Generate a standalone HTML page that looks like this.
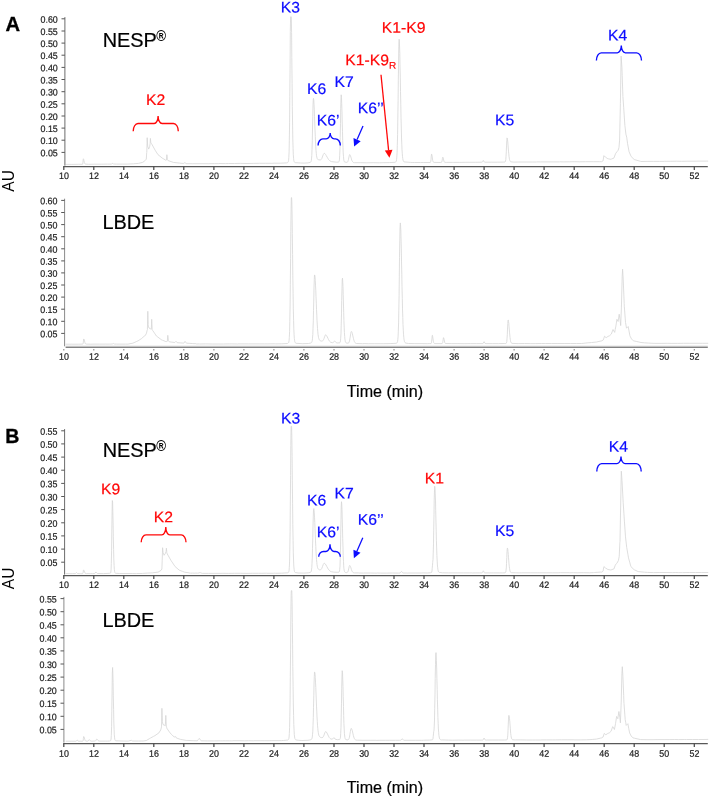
<!DOCTYPE html>
<html lang="en"><head><meta charset="utf-8"><title>Chromatograms</title>
<style>html,body{margin:0;padding:0;background:#fff}svg{display:block}</style></head>
<body>
<svg width="709" height="797" viewBox="0 0 709 797" font-family='"Liberation Sans", Arial, Helvetica, sans-serif'>
<rect width="709" height="797" fill="#ffffff"/>
<path d="M65.7,164.4L71.9,164.4L78.2,164.3L81.9,164.3L82.7,164.2L82.9,162.9L83.2,159.4L83.4,158.8L83.7,159.4L83.9,160.4L84.4,162.6L84.7,163.3L84.9,163.8L85.4,164.1L88.6,164.3L94.9,164.2L101.1,164.2L107.3,164.1L111.6,164.1L112.3,163.4L112.6,163.4L112.8,163.5L113.3,164.0L116.3,164.1L122.5,164.1L127.3,164.1L133.5,163.8L138.5,163.4L142.5,162.4L142.7,162.4L145.4,160.3L146.3,159.1L146.7,152.7L146.8,152.3L147.2,137.7L147.7,146.2L148.7,149.1L149.6,146.9L150.1,143.8L150.4,138.4L150.8,142.5L151.5,143.6L155.2,150.3L158.0,154.7L162.2,158.0L162.2,158.1L165.7,160.1L165.8,160.3L166.4,160.0L166.9,154.7L167.4,159.5L167.5,160.0L167.9,160.5L173.4,162.4L179.6,163.1L182.0,163.4L183.9,163.4L184.9,162.5L185.9,163.4L186.1,163.7L192.4,163.7L195.9,163.7L202.1,163.7L208.3,163.7L214.5,163.6L218.8,163.6L219.0,163.5L225.3,163.6L228.3,163.5L234.5,163.5L240.7,163.4L247.0,163.5L253.2,163.4L259.4,163.3L265.7,163.3L271.9,163.3L274.1,163.2L280.4,163.2L286.4,162.9L287.6,162.6L288.1,162.2L288.3,161.7L288.6,160.4L288.8,157.7L289.1,151.8L289.3,140.8L289.6,122.8L289.8,96.7L290.1,64.5L290.3,31.4L290.6,16.8L291.3,16.8L291.6,32.4L291.8,57.8L292.1,83.4L292.3,106.5L292.6,125.1L292.8,139.1L293.1,148.6L293.3,154.7L293.6,158.3L293.8,160.4L294.1,161.4L294.3,161.9L294.6,162.3L295.6,162.7L300.6,163.0L304.3,163.1L307.8,162.9L310.3,162.4L310.8,162.0L311.0,161.6L311.3,160.7L311.5,158.9L311.8,155.4L312.0,149.5L312.3,140.6L312.5,129.0L312.8,116.4L313.0,105.3L313.3,98.9L313.5,98.3L313.8,100.4L314.0,104.3L314.3,109.8L314.5,116.3L315.0,130.0L315.3,136.4L315.5,142.0L315.8,146.8L316.0,150.5L316.3,153.5L316.5,155.7L316.8,157.1L317.0,158.1L317.3,158.8L317.5,159.2L317.8,159.5L318.3,159.7L320.3,160.0L320.8,159.8L321.3,159.3L321.8,158.5L322.0,158.0L323.3,154.5L323.8,153.6L324.0,153.4L324.3,153.3L325.0,153.7L325.5,154.3L326.2,155.5L327.5,157.8L328.7,159.7L329.5,160.5L331.2,161.6L336.7,162.2L338.2,162.1L338.7,161.9L339.0,161.7L339.2,161.0L339.5,159.1L339.7,155.4L340.0,148.3L340.2,137.5L340.5,123.4L340.7,108.8L341.0,98.0L341.2,94.8L341.5,97.3L341.7,103.5L342.0,112.1L342.2,122.0L342.5,131.7L342.7,140.5L343.0,147.6L343.2,152.9L343.5,156.6L343.7,159.0L343.9,160.5L344.2,161.4L344.4,161.8L344.7,162.0L346.9,162.4L347.4,162.2L347.9,161.4L348.2,160.6L348.4,159.7L349.2,155.9L349.4,155.0L349.7,154.6L349.9,154.7L350.2,155.0L350.4,155.6L351.2,158.1L351.4,159.0L351.9,160.5L352.2,161.1L352.7,161.8L353.4,162.5L354.4,162.7L360.7,162.7L366.9,162.8L373.1,162.7L379.4,162.8L382.8,162.7L383.1,162.7L389.3,162.6L395.1,162.3L395.8,161.9L396.1,161.6L396.3,161.0L396.6,159.6L396.8,157.1L397.1,152.7L397.3,145.3L397.6,134.3L397.8,119.2L398.1,100.6L398.3,80.2L398.6,60.9L398.8,46.3L399.1,39.2L399.3,39.9L399.5,45.0L399.8,53.5L400.0,64.8L400.3,77.8L400.5,91.4L400.8,104.8L401.0,117.1L401.3,128.0L401.5,137.0L401.8,144.2L402.0,149.8L402.3,153.8L402.5,156.7L402.8,158.7L403.0,160.0L403.3,160.8L403.5,161.3L404.0,161.9L410.3,162.4L412.8,162.5L414.3,162.5L420.2,162.5L420.5,162.5L420.7,162.6L421.0,162.5L423.7,162.5L430.0,162.5L430.5,162.3L430.7,161.7L431.0,159.9L431.2,156.7L431.5,154.2L431.7,154.2L432.0,155.5L432.5,159.0L432.7,160.5L433.0,161.5L433.2,162.0L434.0,162.4L440.2,162.5L441.4,162.3L441.7,162.2L441.9,161.5L442.2,160.3L442.4,158.6L442.7,157.3L442.9,157.2L443.2,157.8L443.7,160.1L443.9,161.1L444.2,161.7L444.4,162.1L444.7,162.3L446.2,162.4L452.4,162.4L453.4,162.4L459.6,162.4L465.9,162.3L469.1,162.3L475.3,162.3L481.6,162.2L482.1,162.2L482.3,162.1L482.6,161.8L483.1,160.6L483.3,160.3L483.6,160.6L484.1,161.7L484.3,162.0L484.8,162.2L491.1,162.2L497.3,162.2L503.5,162.1L505.0,162.0L505.3,161.7L505.5,161.0L505.8,159.5L506.0,156.6L506.3,151.8L506.5,145.9L506.8,140.6L507.0,137.9L507.3,138.2L507.5,139.7L507.8,142.0L508.0,145.0L508.5,151.2L508.8,153.9L509.0,156.3L509.3,158.1L509.5,159.5L509.8,160.5L510.0,161.1L510.3,161.5L510.7,161.8L513.7,162.1L520.0,162.0L526.2,162.0L532.4,162.0L536.4,162.0L536.7,161.9L540.7,161.9L546.9,161.9L553.1,161.9L559.4,161.9L559.6,161.8L559.9,161.9L560.1,161.8L563.1,161.9L569.3,161.8L574.8,161.7L579.3,161.8L585.5,161.7L587.0,161.7L593.3,161.7L599.5,161.7L601.5,161.7L602.5,161.3L602.8,161.1L603.0,161.0L603.9,155.7L604.0,155.7L605.4,157.1L607.9,158.8L608.7,158.9L611.0,159.3L611.5,159.0L613.9,158.1L615.6,153.5L616.9,151.8L617.0,151.7L618.1,150.3L618.9,147.9L619.0,147.2L619.6,140.1L620.4,103.7L621.1,56.1L621.9,67.3L622.2,75.6L622.9,96.3L622.9,96.4L623.7,107.7L623.7,107.8L624.9,125.6L625.9,134.1L626.7,137.2L627.6,143.8L629.1,151.8L631.2,156.6L634.2,159.5L640.4,161.3L641.0,161.5L647.1,161.4L653.4,161.4L659.6,161.4L664.2,161.4L664.3,161.3L666.1,161.3L670.3,161.3L676.6,161.2L681.5,161.3L687.8,161.2L694.0,161.2L700.2,161.1L706.5,161.1L708.2,161.1" fill="none" stroke="#d6d6d6" stroke-width="0.8" stroke-linejoin="round"/>
<g stroke="#585858" stroke-width="1" fill="none">
<line x1="64.9" y1="17.1" x2="64.9" y2="165.6" stroke="#6c6c6c"/>
<line x1="63.2" y1="166.6" x2="707.8" y2="166.6" stroke-width="1.1"/>
<line x1="61.5" y1="18.8" x2="64.9" y2="18.8"/>
<line x1="61.5" y1="31.0" x2="64.9" y2="31.0"/>
<line x1="61.5" y1="43.1" x2="64.9" y2="43.1"/>
<line x1="61.5" y1="55.2" x2="64.9" y2="55.2"/>
<line x1="61.5" y1="67.4" x2="64.9" y2="67.4"/>
<line x1="61.5" y1="79.5" x2="64.9" y2="79.5"/>
<line x1="61.5" y1="91.7" x2="64.9" y2="91.7"/>
<line x1="61.5" y1="103.8" x2="64.9" y2="103.8"/>
<line x1="61.5" y1="116.0" x2="64.9" y2="116.0"/>
<line x1="61.5" y1="128.1" x2="64.9" y2="128.1"/>
<line x1="61.5" y1="140.2" x2="64.9" y2="140.2"/>
<line x1="61.5" y1="152.4" x2="64.9" y2="152.4"/>
<line x1="63.8" y1="166.6" x2="63.8" y2="170.1" stroke="#4a4a4a" stroke-width="1.25"/>
<line x1="93.8" y1="166.6" x2="93.8" y2="170.1" stroke="#4a4a4a" stroke-width="1.25"/>
<line x1="123.8" y1="166.6" x2="123.8" y2="170.1" stroke="#4a4a4a" stroke-width="1.25"/>
<line x1="153.8" y1="166.6" x2="153.8" y2="170.1" stroke="#4a4a4a" stroke-width="1.25"/>
<line x1="183.8" y1="166.6" x2="183.8" y2="170.1" stroke="#4a4a4a" stroke-width="1.25"/>
<line x1="213.9" y1="166.6" x2="213.9" y2="170.1" stroke="#4a4a4a" stroke-width="1.25"/>
<line x1="243.9" y1="166.6" x2="243.9" y2="170.1" stroke="#4a4a4a" stroke-width="1.25"/>
<line x1="273.9" y1="166.6" x2="273.9" y2="170.1" stroke="#4a4a4a" stroke-width="1.25"/>
<line x1="303.9" y1="166.6" x2="303.9" y2="170.1" stroke="#4a4a4a" stroke-width="1.25"/>
<line x1="334.0" y1="166.6" x2="334.0" y2="170.1" stroke="#4a4a4a" stroke-width="1.25"/>
<line x1="364.0" y1="166.6" x2="364.0" y2="170.1" stroke="#4a4a4a" stroke-width="1.25"/>
<line x1="394.0" y1="166.6" x2="394.0" y2="170.1" stroke="#4a4a4a" stroke-width="1.25"/>
<line x1="424.0" y1="166.6" x2="424.0" y2="170.1" stroke="#4a4a4a" stroke-width="1.25"/>
<line x1="454.1" y1="166.6" x2="454.1" y2="170.1" stroke="#4a4a4a" stroke-width="1.25"/>
<line x1="484.1" y1="166.6" x2="484.1" y2="170.1" stroke="#4a4a4a" stroke-width="1.25"/>
<line x1="514.1" y1="166.6" x2="514.1" y2="170.1" stroke="#4a4a4a" stroke-width="1.25"/>
<line x1="544.1" y1="166.6" x2="544.1" y2="170.1" stroke="#4a4a4a" stroke-width="1.25"/>
<line x1="574.2" y1="166.6" x2="574.2" y2="170.1" stroke="#4a4a4a" stroke-width="1.25"/>
<line x1="604.2" y1="166.6" x2="604.2" y2="170.1" stroke="#4a4a4a" stroke-width="1.25"/>
<line x1="634.2" y1="166.6" x2="634.2" y2="170.1" stroke="#4a4a4a" stroke-width="1.25"/>
<line x1="664.2" y1="166.6" x2="664.2" y2="170.1" stroke="#4a4a4a" stroke-width="1.25"/>
<line x1="694.3" y1="166.6" x2="694.3" y2="170.1" stroke="#4a4a4a" stroke-width="1.25"/>
</g>
<g font-size="8.9" fill="#1c1c1c" stroke="#1c1c1c" stroke-width="0.2">
<text transform="translate(57.8,22.7) rotate(0.03) scale(1,1.06)" text-anchor="end">0.60</text>
<text transform="translate(57.8,34.9) rotate(0.03) scale(1,1.06)" text-anchor="end">0.55</text>
<text transform="translate(57.8,47.0) rotate(0.03) scale(1,1.06)" text-anchor="end">0.50</text>
<text transform="translate(57.8,59.1) rotate(0.03) scale(1,1.06)" text-anchor="end">0.45</text>
<text transform="translate(57.8,71.3) rotate(0.03) scale(1,1.06)" text-anchor="end">0.40</text>
<text transform="translate(57.8,83.4) rotate(0.03) scale(1,1.06)" text-anchor="end">0.35</text>
<text transform="translate(57.8,95.6) rotate(0.03) scale(1,1.06)" text-anchor="end">0.30</text>
<text transform="translate(57.8,107.7) rotate(0.03) scale(1,1.06)" text-anchor="end">0.25</text>
<text transform="translate(57.8,119.9) rotate(0.03) scale(1,1.06)" text-anchor="end">0.20</text>
<text transform="translate(57.8,132.0) rotate(0.03) scale(1,1.06)" text-anchor="end">0.15</text>
<text transform="translate(57.8,144.1) rotate(0.03) scale(1,1.06)" text-anchor="end">0.10</text>
<text transform="translate(57.8,156.3) rotate(0.03) scale(1,1.06)" text-anchor="end">0.05</text>
<text transform="translate(63.9,179.0) rotate(0.03) scale(1,1.06)" text-anchor="middle">10</text>
<text transform="translate(93.9,179.0) rotate(0.03) scale(1,1.06)" text-anchor="middle">12</text>
<text transform="translate(123.9,179.0) rotate(0.03) scale(1,1.06)" text-anchor="middle">14</text>
<text transform="translate(153.9,179.0) rotate(0.03) scale(1,1.06)" text-anchor="middle">16</text>
<text transform="translate(183.9,179.0) rotate(0.03) scale(1,1.06)" text-anchor="middle">18</text>
<text transform="translate(214.0,179.0) rotate(0.03) scale(1,1.06)" text-anchor="middle">20</text>
<text transform="translate(244.0,179.0) rotate(0.03) scale(1,1.06)" text-anchor="middle">22</text>
<text transform="translate(274.0,179.0) rotate(0.03) scale(1,1.06)" text-anchor="middle">24</text>
<text transform="translate(304.0,179.0) rotate(0.03) scale(1,1.06)" text-anchor="middle">26</text>
<text transform="translate(334.1,179.0) rotate(0.03) scale(1,1.06)" text-anchor="middle">28</text>
<text transform="translate(364.1,179.0) rotate(0.03) scale(1,1.06)" text-anchor="middle">30</text>
<text transform="translate(394.1,179.0) rotate(0.03) scale(1,1.06)" text-anchor="middle">32</text>
<text transform="translate(424.1,179.0) rotate(0.03) scale(1,1.06)" text-anchor="middle">34</text>
<text transform="translate(454.2,179.0) rotate(0.03) scale(1,1.06)" text-anchor="middle">36</text>
<text transform="translate(484.2,179.0) rotate(0.03) scale(1,1.06)" text-anchor="middle">38</text>
<text transform="translate(514.2,179.0) rotate(0.03) scale(1,1.06)" text-anchor="middle">40</text>
<text transform="translate(544.2,179.0) rotate(0.03) scale(1,1.06)" text-anchor="middle">42</text>
<text transform="translate(574.3,179.0) rotate(0.03) scale(1,1.06)" text-anchor="middle">44</text>
<text transform="translate(604.3,179.0) rotate(0.03) scale(1,1.06)" text-anchor="middle">46</text>
<text transform="translate(634.3,179.0) rotate(0.03) scale(1,1.06)" text-anchor="middle">48</text>
<text transform="translate(664.3,179.0) rotate(0.03) scale(1,1.06)" text-anchor="middle">50</text>
<text transform="translate(694.4,179.0) rotate(0.03) scale(1,1.06)" text-anchor="middle">52</text>
</g>
<text transform="translate(102.7,46.6) scale(1,1.04)" font-size="19.9" fill="#000" stroke="#000" stroke-width="0.2">NESP<tspan font-size="13.3" dy="-5.7" dx="-0.6" font-weight="bold" stroke="none">®</tspan></text>
<path d="M65.7,344.2L71.9,344.2L78.2,344.2L82.7,344.1L82.9,344.0L83.2,343.2L83.7,339.0L83.9,339.0L84.2,339.7L84.9,342.5L85.1,343.2L85.6,343.9L86.6,344.1L90.9,344.2L93.9,344.1L99.4,344.1L105.6,344.1L105.8,344.1L109.8,344.1L110.1,344.1L110.3,344.1L112.3,344.0L113.1,343.4L113.3,343.4L114.1,344.0L116.6,344.1L119.1,344.1L125.3,344.1L128.3,344.1L128.3,344.0L132.8,343.2L136.8,341.4L138.0,340.8L138.1,340.8L139.8,339.7L141.5,338.6L144.2,336.2L145.3,335.5L146.5,333.1L147.2,330.1L147.4,329.7L147.8,311.3L148.2,324.7L148.3,326.1L149.0,328.0L150.2,328.7L150.2,328.7L151.3,329.2L151.7,319.3L152.2,329.7L152.8,330.7L153.0,330.9L155.0,333.9L156.4,336.0L161.9,340.1L162.2,340.1L162.4,340.3L162.7,340.3L165.9,341.6L166.1,341.8L166.2,341.7L167.3,341.3L167.8,335.3L168.4,340.8L169.3,341.8L174.8,342.5L176.0,341.3L177.2,342.7L183.4,343.1L183.8,343.2L184.9,341.5L185.0,341.3L186.5,343.2L189.1,343.3L192.9,343.6L195.9,343.7L196.1,344.0L199.3,343.9L199.6,344.0L205.8,343.9L212.1,344.0L218.3,344.0L223.5,344.0L229.8,343.9L231.8,343.9L237.7,344.0L238.0,343.9L244.2,343.9L248.0,343.9L248.2,343.9L248.7,343.9L249.0,343.9L252.9,343.9L259.2,343.9L264.7,343.9L267.9,343.9L274.1,343.8L275.6,343.9L281.9,343.8L287.4,343.5L288.3,343.0L288.6,342.7L288.8,342.0L289.1,340.5L289.3,337.4L289.6,331.5L289.8,321.4L290.1,306.0L290.3,284.6L290.6,258.6L290.8,231.6L291.1,208.5L291.3,197.6L291.6,197.6L291.8,200.9L292.1,215.0L292.3,233.7L292.6,254.5L292.8,275.1L293.1,293.6L293.3,308.8L293.6,320.5L293.8,328.9L294.1,334.7L294.3,338.3L294.6,340.5L294.8,341.8L295.1,342.4L295.3,342.8L296.1,343.3L302.3,343.7L308.5,343.5L310.8,343.0L311.3,342.8L311.5,342.6L311.8,342.2L312.0,341.6L312.3,340.4L312.5,338.2L312.8,334.5L313.0,328.8L313.3,320.7L313.5,310.5L313.8,299.0L314.0,287.9L314.3,279.3L314.5,275.0L314.8,275.1L315.0,277.0L315.3,280.5L315.5,285.1L315.8,290.7L316.0,296.8L316.3,303.2L316.5,309.3L316.8,315.2L317.0,320.3L317.3,324.9L317.5,328.6L317.8,331.8L318.0,334.2L318.3,336.1L318.5,337.4L318.8,338.4L319.0,339.2L319.3,339.7L319.8,340.4L320.5,340.8L321.5,341.1L322.3,341.0L322.8,340.8L323.0,340.5L323.5,339.7L324.0,338.5L324.8,336.2L325.3,335.1L325.5,334.8L326.0,334.9L326.5,335.4L326.7,335.8L328.0,338.4L328.5,339.6L329.5,341.2L330.7,342.3L332.5,342.7L333.0,342.7L333.5,342.3L334.2,341.3L334.7,340.9L335.2,341.4L335.7,342.2L336.2,342.7L337.0,343.0L339.7,342.8L340.0,342.6L340.2,342.1L340.5,340.9L340.7,338.2L341.0,333.3L341.2,325.2L341.5,313.9L341.7,300.6L342.0,288.1L342.2,279.8L342.5,278.2L342.7,281.0L343.0,286.8L343.2,294.6L343.7,312.4L343.9,320.4L344.2,327.2L344.4,332.6L344.7,336.4L344.9,339.1L345.2,340.8L345.4,341.8L345.7,342.4L345.9,342.7L346.7,343.1L347.9,343.2L348.4,343.1L348.7,342.9L348.9,342.5L349.2,342.0L349.4,341.2L349.7,340.1L349.9,338.7L350.2,337.1L350.7,333.8L350.9,332.5L351.2,331.6L351.4,331.4L351.7,331.6L351.9,332.1L352.2,332.9L352.4,333.8L353.4,338.3L353.9,340.2L354.4,341.6L354.9,342.5L355.7,343.2L356.4,343.5L362.6,343.7L364.1,343.6L368.4,343.7L374.6,343.7L380.8,343.7L383.8,343.7L390.1,343.6L396.1,343.3L396.8,343.0L397.1,342.8L397.3,342.4L397.6,341.4L397.8,339.7L398.1,336.5L398.3,331.2L398.6,322.9L398.8,310.9L399.1,295.3L399.3,276.9L399.5,257.6L399.8,240.2L400.0,227.8L400.3,222.9L400.5,224.4L400.8,229.7L401.0,238.0L401.3,248.8L401.5,261.1L401.8,274.1L402.0,286.7L402.3,298.5L402.5,308.9L402.8,317.6L403.0,324.7L403.3,330.2L403.5,334.3L403.8,337.3L404.0,339.3L404.3,340.7L404.5,341.7L405.0,342.6L405.8,343.1L408.5,343.5L414.8,343.6L421.0,343.6L427.2,343.7L429.2,343.6L431.0,343.6L431.2,343.4L431.5,342.8L431.7,341.0L432.0,337.9L432.2,335.4L432.5,335.4L432.7,336.6L433.2,340.2L433.5,341.6L433.7,342.6L434.0,343.2L434.2,343.4L434.7,343.6L440.9,343.6L442.2,343.6L442.4,343.3L442.7,342.7L442.9,341.3L443.2,339.3L443.4,337.8L443.7,337.7L443.9,338.5L444.2,339.7L444.4,341.0L444.7,342.1L444.9,342.9L445.2,343.3L445.4,343.5L451.7,343.6L457.9,343.6L464.1,343.7L470.4,343.6L476.6,343.6L482.8,343.6L483.1,343.5L483.3,343.1L483.8,342.0L484.1,341.7L484.3,341.9L484.8,343.1L485.1,343.4L486.1,343.6L492.3,343.6L498.5,343.6L504.8,343.5L505.8,343.5L506.3,343.2L506.5,342.7L506.8,341.5L507.0,338.9L507.3,334.7L507.5,329.0L507.8,323.5L508.0,320.2L508.3,320.1L508.5,321.3L508.8,323.4L509.0,326.2L509.5,332.2L509.8,335.0L510.0,337.5L510.3,339.4L510.5,340.7L510.7,341.8L511.0,342.4L511.2,342.9L512.0,343.4L518.2,343.6L524.5,343.5L530.7,343.6L535.2,343.6L541.4,343.5L544.9,343.5L545.4,343.5L551.6,343.5L557.9,343.5L564.1,343.5L570.3,343.5L576.6,343.5L581.7,343.5L587.8,342.8L591.0,342.6L591.3,342.5L591.8,342.5L596.8,342.0L597.0,341.9L601.9,340.8L603.4,339.8L604.5,336.2L606.1,337.7L608.0,336.4L609.6,335.7L611.4,334.0L611.7,333.0L613.0,329.5L614.7,332.4L615.2,329.5L615.9,326.1L616.9,319.3L618.1,321.5L619.2,314.2L620.1,320.0L620.7,325.6L620.7,325.4L621.4,307.9L622.2,276.4L622.6,269.2L623.2,278.9L624.2,303.4L624.3,306.2L625.5,322.4L626.5,328.2L628.2,326.5L629.0,330.9L629.9,335.7L630.4,336.8L631.5,338.9L633.3,340.8L636.7,341.5L641.0,342.5L644.4,342.8L648.6,343.1L654.9,343.4L661.1,343.4L667.1,343.3L671.1,343.4L677.3,343.4L683.5,343.3L689.8,343.3L696.0,343.3L702.2,343.3L708.2,343.3" fill="none" stroke="#d6d6d6" stroke-width="0.8" stroke-linejoin="round"/>
<line x1="65.6" y1="346.15" x2="707.8" y2="346.15" stroke="#bdbdbd" stroke-width="0.6"/>
<g stroke="#585858" stroke-width="1" fill="none">
<line x1="64.6" y1="198.7" x2="64.6" y2="346.3" stroke="#8a8a8a"/>
<line x1="65.6" y1="347.3" x2="707.8" y2="347.3" stroke-width="1.05"/>
<line x1="61.2" y1="200.4" x2="64.6" y2="200.4"/>
<line x1="61.2" y1="212.5" x2="64.6" y2="212.5"/>
<line x1="61.2" y1="224.6" x2="64.6" y2="224.6"/>
<line x1="61.2" y1="236.7" x2="64.6" y2="236.7"/>
<line x1="61.2" y1="248.8" x2="64.6" y2="248.8"/>
<line x1="61.2" y1="260.9" x2="64.6" y2="260.9"/>
<line x1="61.2" y1="272.9" x2="64.6" y2="272.9"/>
<line x1="61.2" y1="285.0" x2="64.6" y2="285.0"/>
<line x1="61.2" y1="297.1" x2="64.6" y2="297.1"/>
<line x1="61.2" y1="309.2" x2="64.6" y2="309.2"/>
<line x1="61.2" y1="321.3" x2="64.6" y2="321.3"/>
<line x1="61.2" y1="333.4" x2="64.6" y2="333.4"/>
<line x1="63.8" y1="348.9" x2="63.8" y2="350.4" stroke="#8a8a8a" stroke-width="1.1"/>
<line x1="93.8" y1="348.9" x2="93.8" y2="350.4" stroke="#8a8a8a" stroke-width="1.1"/>
<line x1="123.8" y1="348.9" x2="123.8" y2="350.4" stroke="#8a8a8a" stroke-width="1.1"/>
<line x1="153.8" y1="348.9" x2="153.8" y2="350.4" stroke="#8a8a8a" stroke-width="1.1"/>
<line x1="183.8" y1="348.9" x2="183.8" y2="350.4" stroke="#8a8a8a" stroke-width="1.1"/>
<line x1="213.9" y1="348.9" x2="213.9" y2="350.4" stroke="#8a8a8a" stroke-width="1.1"/>
<line x1="243.9" y1="348.9" x2="243.9" y2="350.4" stroke="#8a8a8a" stroke-width="1.1"/>
<line x1="273.9" y1="348.9" x2="273.9" y2="350.4" stroke="#8a8a8a" stroke-width="1.1"/>
<line x1="303.9" y1="348.9" x2="303.9" y2="350.4" stroke="#8a8a8a" stroke-width="1.1"/>
<line x1="334.0" y1="348.9" x2="334.0" y2="350.4" stroke="#8a8a8a" stroke-width="1.1"/>
<line x1="364.0" y1="348.9" x2="364.0" y2="350.4" stroke="#8a8a8a" stroke-width="1.1"/>
<line x1="394.0" y1="348.9" x2="394.0" y2="350.4" stroke="#8a8a8a" stroke-width="1.1"/>
<line x1="424.0" y1="348.9" x2="424.0" y2="350.4" stroke="#8a8a8a" stroke-width="1.1"/>
<line x1="454.1" y1="348.9" x2="454.1" y2="350.4" stroke="#8a8a8a" stroke-width="1.1"/>
<line x1="484.1" y1="348.9" x2="484.1" y2="350.4" stroke="#8a8a8a" stroke-width="1.1"/>
<line x1="514.1" y1="348.9" x2="514.1" y2="350.4" stroke="#8a8a8a" stroke-width="1.1"/>
<line x1="544.1" y1="348.9" x2="544.1" y2="350.4" stroke="#8a8a8a" stroke-width="1.1"/>
<line x1="574.2" y1="348.9" x2="574.2" y2="350.4" stroke="#8a8a8a" stroke-width="1.1"/>
<line x1="604.2" y1="348.9" x2="604.2" y2="350.4" stroke="#8a8a8a" stroke-width="1.1"/>
<line x1="634.2" y1="348.9" x2="634.2" y2="350.4" stroke="#8a8a8a" stroke-width="1.1"/>
<line x1="664.2" y1="348.9" x2="664.2" y2="350.4" stroke="#8a8a8a" stroke-width="1.1"/>
<line x1="694.3" y1="348.9" x2="694.3" y2="350.4" stroke="#8a8a8a" stroke-width="1.1"/>
</g>
<g font-size="8.9" fill="#1c1c1c" stroke="#1c1c1c" stroke-width="0.2">
<text transform="translate(57.5,204.3) rotate(0.03) scale(1,1.06)" text-anchor="end">0.60</text>
<text transform="translate(57.5,216.4) rotate(0.03) scale(1,1.06)" text-anchor="end">0.55</text>
<text transform="translate(57.5,228.5) rotate(0.03) scale(1,1.06)" text-anchor="end">0.50</text>
<text transform="translate(57.5,240.6) rotate(0.03) scale(1,1.06)" text-anchor="end">0.45</text>
<text transform="translate(57.5,252.7) rotate(0.03) scale(1,1.06)" text-anchor="end">0.40</text>
<text transform="translate(57.5,264.8) rotate(0.03) scale(1,1.06)" text-anchor="end">0.35</text>
<text transform="translate(57.5,276.8) rotate(0.03) scale(1,1.06)" text-anchor="end">0.30</text>
<text transform="translate(57.5,288.9) rotate(0.03) scale(1,1.06)" text-anchor="end">0.25</text>
<text transform="translate(57.5,301.0) rotate(0.03) scale(1,1.06)" text-anchor="end">0.20</text>
<text transform="translate(57.5,313.1) rotate(0.03) scale(1,1.06)" text-anchor="end">0.15</text>
<text transform="translate(57.5,325.2) rotate(0.03) scale(1,1.06)" text-anchor="end">0.10</text>
<text transform="translate(57.5,337.3) rotate(0.03) scale(1,1.06)" text-anchor="end">0.05</text>
<text transform="translate(63.9,359.8) rotate(0.03) scale(1,1.06)" text-anchor="middle">10</text>
<text transform="translate(93.9,359.8) rotate(0.03) scale(1,1.06)" text-anchor="middle">12</text>
<text transform="translate(123.9,359.8) rotate(0.03) scale(1,1.06)" text-anchor="middle">14</text>
<text transform="translate(153.9,359.8) rotate(0.03) scale(1,1.06)" text-anchor="middle">16</text>
<text transform="translate(183.9,359.8) rotate(0.03) scale(1,1.06)" text-anchor="middle">18</text>
<text transform="translate(214.0,359.8) rotate(0.03) scale(1,1.06)" text-anchor="middle">20</text>
<text transform="translate(244.0,359.8) rotate(0.03) scale(1,1.06)" text-anchor="middle">22</text>
<text transform="translate(274.0,359.8) rotate(0.03) scale(1,1.06)" text-anchor="middle">24</text>
<text transform="translate(304.0,359.8) rotate(0.03) scale(1,1.06)" text-anchor="middle">26</text>
<text transform="translate(334.1,359.8) rotate(0.03) scale(1,1.06)" text-anchor="middle">28</text>
<text transform="translate(364.1,359.8) rotate(0.03) scale(1,1.06)" text-anchor="middle">30</text>
<text transform="translate(394.1,359.8) rotate(0.03) scale(1,1.06)" text-anchor="middle">32</text>
<text transform="translate(424.1,359.8) rotate(0.03) scale(1,1.06)" text-anchor="middle">34</text>
<text transform="translate(454.2,359.8) rotate(0.03) scale(1,1.06)" text-anchor="middle">36</text>
<text transform="translate(484.2,359.8) rotate(0.03) scale(1,1.06)" text-anchor="middle">38</text>
<text transform="translate(514.2,359.8) rotate(0.03) scale(1,1.06)" text-anchor="middle">40</text>
<text transform="translate(544.2,359.8) rotate(0.03) scale(1,1.06)" text-anchor="middle">42</text>
<text transform="translate(574.3,359.8) rotate(0.03) scale(1,1.06)" text-anchor="middle">44</text>
<text transform="translate(604.3,359.8) rotate(0.03) scale(1,1.06)" text-anchor="middle">46</text>
<text transform="translate(634.3,359.8) rotate(0.03) scale(1,1.06)" text-anchor="middle">48</text>
<text transform="translate(664.3,359.8) rotate(0.03) scale(1,1.06)" text-anchor="middle">50</text>
<text transform="translate(694.4,359.8) rotate(0.03) scale(1,1.06)" text-anchor="middle">52</text>
</g>
<text transform="translate(102.4,229.3) scale(1,1.04)" font-size="19.9" fill="#000" stroke="#000" stroke-width="0.2">LBDE</text>
<path d="M65.7,573.6L66.9,573.6L72.2,573.7L72.4,573.6L75.2,573.6L75.7,573.4L75.9,573.2L76.2,572.9L76.4,572.6L76.7,572.7L77.2,573.3L77.7,573.6L79.9,573.7L80.2,573.6L80.4,573.7L80.9,573.6L81.2,573.7L82.7,573.6L82.9,573.2L83.2,572.2L83.4,570.4L83.7,569.9L83.9,570.3L84.7,572.3L85.1,573.2L86.1,573.6L86.4,573.6L89.9,573.6L90.4,573.6L92.6,573.6L92.9,573.6L94.6,573.5L95.1,573.1L95.9,572.0L96.1,572.1L96.6,572.6L97.1,573.2L97.4,573.5L103.6,573.6L109.8,573.3L110.3,573.2L110.6,573.0L110.8,572.2L111.1,569.7L111.3,563.4L111.6,550.8L111.8,531.8L112.1,511.8L112.3,500.5L112.6,502.0L112.8,510.3L113.1,522.9L113.3,536.8L113.6,549.3L113.8,558.9L114.1,565.4L114.3,569.3L114.6,571.5L114.8,572.5L115.1,572.9L115.6,573.3L119.6,573.5L119.8,573.5L126.0,573.5L132.3,573.5L136.3,573.6L136.5,573.5L142.2,573.5L142.7,573.4L146.0,573.2L147.5,573.1L152.2,572.9L158.1,572.1L161.0,570.4L161.9,569.0L162.2,560.6L162.6,547.7L163.1,552.7L164.1,555.3L165.5,553.2L165.9,551.7L166.1,551.4L166.4,548.2L166.7,551.3L166.8,552.7L167.3,554.0L170.9,560.3L175.1,566.6L179.3,570.2L180.9,570.8L182.6,571.4L184.6,572.2L188.9,572.8L189.4,573.0L190.6,573.1L190.7,573.2L192.4,573.1L194.9,573.2L195.1,573.1L197.8,573.1L197.9,573.2L200.1,572.6L202.3,573.4L202.4,573.4L208.6,573.4L214.8,573.4L221.0,573.4L222.0,573.3L228.3,573.4L234.5,573.3L240.7,573.3L247.0,573.4L252.2,573.3L258.4,573.3L261.9,573.3L266.7,573.2L266.9,573.3L273.1,573.3L274.4,573.2L275.4,573.3L281.6,573.2L287.6,572.8L288.3,572.5L288.6,572.2L288.8,571.6L289.1,570.3L289.3,567.3L289.6,561.1L289.8,549.8L290.1,531.6L290.3,506.1L290.6,475.6L290.8,445.5L291.1,426.3L291.6,426.3L291.8,435.5L292.1,456.4L292.3,480.2L292.6,503.7L292.8,524.3L293.1,540.8L293.3,552.9L293.6,561.0L293.8,566.1L294.1,569.2L294.3,570.9L294.6,571.7L294.8,572.2L295.3,572.5L298.1,573.0L303.8,573.1L304.1,573.1L308.8,572.8L310.3,572.4L310.8,572.1L311.0,571.8L311.3,571.1L311.5,569.9L311.8,567.5L312.0,563.4L312.3,557.1L312.5,548.3L312.8,537.6L313.0,526.2L313.3,516.2L313.5,509.8L313.8,508.6L314.0,509.9L314.3,512.9L314.5,517.2L314.8,522.6L315.0,528.5L315.3,534.8L315.5,540.9L315.8,546.6L316.0,551.6L316.3,556.0L316.5,559.6L316.8,562.4L317.0,564.6L317.3,566.2L317.5,567.4L317.8,568.2L318.0,568.7L318.3,569.1L319.5,569.8L320.3,569.8L320.8,569.7L321.3,569.2L321.8,568.4L322.5,566.5L323.3,564.4L323.8,563.5L324.0,563.2L324.5,563.3L325.0,563.6L326.0,565.0L326.7,566.3L328.2,569.0L329.5,570.6L330.2,571.2L331.7,571.8L333.5,572.1L337.2,572.3L339.0,572.1L339.2,571.9L339.5,571.2L339.7,569.7L340.0,566.2L340.2,559.7L340.5,549.1L340.7,534.8L341.0,519.4L341.2,506.9L341.5,501.7L341.7,503.6L342.0,509.3L342.2,518.0L342.5,528.1L342.7,538.4L343.0,547.9L343.2,555.7L343.5,561.6L343.7,565.8L343.9,568.6L344.2,570.3L344.4,571.3L344.7,571.8L344.9,572.2L345.7,572.5L346.7,572.6L347.4,572.3L347.9,571.6L348.2,571.0L348.4,570.1L349.2,566.6L349.4,565.8L349.7,565.4L349.9,565.6L350.2,565.9L350.4,566.4L350.7,567.1L351.4,569.5L351.9,570.9L352.4,571.8L352.9,572.4L353.4,572.7L354.4,572.9L358.4,572.9L359.7,573.0L359.9,573.0L363.6,573.1L364.4,573.0L370.6,573.0L374.6,573.1L376.9,573.1L377.4,573.0L380.6,573.1L386.8,573.1L392.3,573.0L398.6,573.1L400.0,573.0L400.5,572.6L401.3,571.6L401.5,571.4L401.8,571.6L402.5,572.7L403.0,573.0L406.3,573.0L407.8,573.1L409.0,573.0L415.3,573.0L421.2,573.0L423.2,572.9L427.2,573.0L430.2,572.8L430.5,572.7L431.2,572.6L431.5,572.5L431.7,572.1L432.0,570.9L432.2,568.3L432.5,565.2L432.7,562.5L433.0,559.5L433.2,553.9L433.5,543.9L433.7,530.3L434.0,514.7L434.2,500.2L434.5,489.9L434.7,486.3L435.0,488.1L435.2,493.1L435.5,500.9L435.7,510.4L436.2,531.1L436.4,540.7L436.7,549.0L436.9,555.7L437.2,561.0L437.4,565.0L437.7,567.7L437.9,569.6L438.2,570.8L438.4,571.5L438.7,572.0L439.2,572.4L442.4,572.8L448.7,572.9L454.9,572.9L457.1,572.9L463.4,572.9L469.6,572.9L471.9,572.9L472.1,573.0L475.1,572.9L479.6,572.9L482.1,572.9L482.3,572.7L482.6,572.4L483.1,571.1L483.3,570.8L483.6,571.1L484.1,572.4L484.3,572.7L484.8,572.9L489.6,572.9L489.8,572.9L491.8,572.9L493.3,572.9L499.5,572.9L502.8,572.9L505.0,572.8L505.3,572.7L505.5,572.5L505.8,571.9L506.0,570.6L506.3,567.9L506.5,563.5L506.8,557.5L507.0,551.7L507.3,548.2L507.5,548.1L507.8,549.4L508.0,551.6L508.3,554.5L508.5,557.8L508.8,560.9L509.0,563.9L509.3,566.4L509.5,568.4L509.8,569.9L510.0,570.9L510.3,571.7L510.5,572.1L510.7,572.4L511.5,572.7L515.7,572.8L516.0,572.9L516.2,572.8L519.2,572.9L521.7,572.8L528.0,572.8L530.9,572.8L537.2,572.8L539.9,572.8L546.2,572.8L552.4,572.8L558.1,572.8L560.6,572.7L566.8,572.7L569.3,572.7L569.6,572.8L573.6,572.7L577.1,572.8L583.3,572.7L589.5,572.8L593.5,572.6L593.7,572.6L594.3,572.5L600.5,572.1L601.9,572.1L603.1,571.1L603.7,567.3L603.9,566.6L605.5,568.0L607.9,569.5L610.9,570.0L613.0,569.2L613.9,569.0L615.0,565.9L615.3,565.0L616.7,563.4L617.0,563.1L618.2,560.9L618.4,560.6L619.2,556.6L619.9,542.2L620.0,541.6L621.2,476.1L621.3,471.2L622.0,480.4L623.2,502.7L623.9,513.3L624.4,521.1L625.5,536.9L626.7,547.4L627.9,554.3L628.5,557.9L629.7,562.1L630.9,566.6L634.2,569.8L634.4,569.8L638.2,571.6L644.4,572.2L647.4,572.4L653.6,572.6L659.8,572.5L666.1,572.5L672.3,572.6L675.8,572.5L678.3,572.6L682.5,572.6L682.8,572.5L683.0,572.6L689.3,572.5L695.5,572.5L701.7,572.5L708.0,572.5L708.2,572.5" fill="none" stroke="#d6d6d6" stroke-width="0.8" stroke-linejoin="round"/>
<g stroke="#585858" stroke-width="1" fill="none">
<line x1="64.6" y1="429.1" x2="64.6" y2="574.6" stroke="#6c6c6c"/>
<line x1="63.2" y1="575.6" x2="707.8" y2="575.6" stroke-width="1.1"/>
<line x1="61.2" y1="430.8" x2="64.6" y2="430.8"/>
<line x1="61.2" y1="443.9" x2="64.6" y2="443.9"/>
<line x1="61.2" y1="457.1" x2="64.6" y2="457.1"/>
<line x1="61.2" y1="470.2" x2="64.6" y2="470.2"/>
<line x1="61.2" y1="483.4" x2="64.6" y2="483.4"/>
<line x1="61.2" y1="496.5" x2="64.6" y2="496.5"/>
<line x1="61.2" y1="509.6" x2="64.6" y2="509.6"/>
<line x1="61.2" y1="522.8" x2="64.6" y2="522.8"/>
<line x1="61.2" y1="535.9" x2="64.6" y2="535.9"/>
<line x1="61.2" y1="549.1" x2="64.6" y2="549.1"/>
<line x1="61.2" y1="562.2" x2="64.6" y2="562.2"/>
<line x1="63.8" y1="575.6" x2="63.8" y2="579.1" stroke="#4a4a4a" stroke-width="1.25"/>
<line x1="93.8" y1="575.6" x2="93.8" y2="579.1" stroke="#4a4a4a" stroke-width="1.25"/>
<line x1="123.8" y1="575.6" x2="123.8" y2="579.1" stroke="#4a4a4a" stroke-width="1.25"/>
<line x1="153.8" y1="575.6" x2="153.8" y2="579.1" stroke="#4a4a4a" stroke-width="1.25"/>
<line x1="183.8" y1="575.6" x2="183.8" y2="579.1" stroke="#4a4a4a" stroke-width="1.25"/>
<line x1="213.9" y1="575.6" x2="213.9" y2="579.1" stroke="#4a4a4a" stroke-width="1.25"/>
<line x1="243.9" y1="575.6" x2="243.9" y2="579.1" stroke="#4a4a4a" stroke-width="1.25"/>
<line x1="273.9" y1="575.6" x2="273.9" y2="579.1" stroke="#4a4a4a" stroke-width="1.25"/>
<line x1="303.9" y1="575.6" x2="303.9" y2="579.1" stroke="#4a4a4a" stroke-width="1.25"/>
<line x1="334.0" y1="575.6" x2="334.0" y2="579.1" stroke="#4a4a4a" stroke-width="1.25"/>
<line x1="364.0" y1="575.6" x2="364.0" y2="579.1" stroke="#4a4a4a" stroke-width="1.25"/>
<line x1="394.0" y1="575.6" x2="394.0" y2="579.1" stroke="#4a4a4a" stroke-width="1.25"/>
<line x1="424.0" y1="575.6" x2="424.0" y2="579.1" stroke="#4a4a4a" stroke-width="1.25"/>
<line x1="454.1" y1="575.6" x2="454.1" y2="579.1" stroke="#4a4a4a" stroke-width="1.25"/>
<line x1="484.1" y1="575.6" x2="484.1" y2="579.1" stroke="#4a4a4a" stroke-width="1.25"/>
<line x1="514.1" y1="575.6" x2="514.1" y2="579.1" stroke="#4a4a4a" stroke-width="1.25"/>
<line x1="544.1" y1="575.6" x2="544.1" y2="579.1" stroke="#4a4a4a" stroke-width="1.25"/>
<line x1="574.2" y1="575.6" x2="574.2" y2="579.1" stroke="#4a4a4a" stroke-width="1.25"/>
<line x1="604.2" y1="575.6" x2="604.2" y2="579.1" stroke="#4a4a4a" stroke-width="1.25"/>
<line x1="634.2" y1="575.6" x2="634.2" y2="579.1" stroke="#4a4a4a" stroke-width="1.25"/>
<line x1="664.2" y1="575.6" x2="664.2" y2="579.1" stroke="#4a4a4a" stroke-width="1.25"/>
<line x1="694.3" y1="575.6" x2="694.3" y2="579.1" stroke="#4a4a4a" stroke-width="1.25"/>
</g>
<g font-size="8.9" fill="#1c1c1c" stroke="#1c1c1c" stroke-width="0.2">
<text transform="translate(57.5,434.7) rotate(0.03) scale(1,1.06)" text-anchor="end">0.55</text>
<text transform="translate(57.5,447.8) rotate(0.03) scale(1,1.06)" text-anchor="end">0.50</text>
<text transform="translate(57.5,461.0) rotate(0.03) scale(1,1.06)" text-anchor="end">0.45</text>
<text transform="translate(57.5,474.1) rotate(0.03) scale(1,1.06)" text-anchor="end">0.40</text>
<text transform="translate(57.5,487.3) rotate(0.03) scale(1,1.06)" text-anchor="end">0.35</text>
<text transform="translate(57.5,500.4) rotate(0.03) scale(1,1.06)" text-anchor="end">0.30</text>
<text transform="translate(57.5,513.5) rotate(0.03) scale(1,1.06)" text-anchor="end">0.25</text>
<text transform="translate(57.5,526.7) rotate(0.03) scale(1,1.06)" text-anchor="end">0.20</text>
<text transform="translate(57.5,539.8) rotate(0.03) scale(1,1.06)" text-anchor="end">0.15</text>
<text transform="translate(57.5,553.0) rotate(0.03) scale(1,1.06)" text-anchor="end">0.10</text>
<text transform="translate(57.5,566.1) rotate(0.03) scale(1,1.06)" text-anchor="end">0.05</text>
<text transform="translate(63.9,588.1) rotate(0.03) scale(1,1.06)" text-anchor="middle">10</text>
<text transform="translate(93.9,588.1) rotate(0.03) scale(1,1.06)" text-anchor="middle">12</text>
<text transform="translate(123.9,588.1) rotate(0.03) scale(1,1.06)" text-anchor="middle">14</text>
<text transform="translate(153.9,588.1) rotate(0.03) scale(1,1.06)" text-anchor="middle">16</text>
<text transform="translate(183.9,588.1) rotate(0.03) scale(1,1.06)" text-anchor="middle">18</text>
<text transform="translate(214.0,588.1) rotate(0.03) scale(1,1.06)" text-anchor="middle">20</text>
<text transform="translate(244.0,588.1) rotate(0.03) scale(1,1.06)" text-anchor="middle">22</text>
<text transform="translate(274.0,588.1) rotate(0.03) scale(1,1.06)" text-anchor="middle">24</text>
<text transform="translate(304.0,588.1) rotate(0.03) scale(1,1.06)" text-anchor="middle">26</text>
<text transform="translate(334.1,588.1) rotate(0.03) scale(1,1.06)" text-anchor="middle">28</text>
<text transform="translate(364.1,588.1) rotate(0.03) scale(1,1.06)" text-anchor="middle">30</text>
<text transform="translate(394.1,588.1) rotate(0.03) scale(1,1.06)" text-anchor="middle">32</text>
<text transform="translate(424.1,588.1) rotate(0.03) scale(1,1.06)" text-anchor="middle">34</text>
<text transform="translate(454.2,588.1) rotate(0.03) scale(1,1.06)" text-anchor="middle">36</text>
<text transform="translate(484.2,588.1) rotate(0.03) scale(1,1.06)" text-anchor="middle">38</text>
<text transform="translate(514.2,588.1) rotate(0.03) scale(1,1.06)" text-anchor="middle">40</text>
<text transform="translate(544.2,588.1) rotate(0.03) scale(1,1.06)" text-anchor="middle">42</text>
<text transform="translate(574.3,588.1) rotate(0.03) scale(1,1.06)" text-anchor="middle">44</text>
<text transform="translate(604.3,588.1) rotate(0.03) scale(1,1.06)" text-anchor="middle">46</text>
<text transform="translate(634.3,588.1) rotate(0.03) scale(1,1.06)" text-anchor="middle">48</text>
<text transform="translate(664.3,588.1) rotate(0.03) scale(1,1.06)" text-anchor="middle">50</text>
<text transform="translate(694.4,588.1) rotate(0.03) scale(1,1.06)" text-anchor="middle">52</text>
</g>
<text transform="translate(102.7,457.2) scale(1,1.04)" font-size="19.9" fill="#000" stroke="#000" stroke-width="0.2">NESP<tspan font-size="13.3" dy="-5.7" dx="-0.6" font-weight="bold" stroke="none">®</tspan></text>
<path d="M65.7,741.2L71.9,741.2L75.9,741.2L76.4,740.9L76.7,740.7L76.9,740.2L77.2,739.9L77.4,740.0L77.9,740.8L78.4,741.2L80.9,741.2L82.7,741.2L82.9,741.1L83.2,740.4L83.4,738.4L83.7,736.6L83.9,736.6L84.2,737.2L84.9,739.8L85.1,740.4L85.4,740.7L85.6,741.0L86.1,741.1L87.9,741.1L88.4,740.7L88.9,739.9L89.1,739.7L89.4,739.7L89.9,740.2L90.4,740.9L91.1,741.2L95.4,741.0L95.6,740.8L95.9,740.5L96.4,739.5L96.6,739.2L96.9,739.1L97.1,739.2L98.1,740.5L98.6,740.9L99.6,741.1L105.8,741.1L107.6,741.1L109.6,741.0L110.3,740.8L110.6,740.7L110.8,740.3L111.1,739.0L111.3,735.4L111.6,726.7L111.8,711.3L112.1,690.9L112.3,673.2L112.6,667.5L112.8,672.0L113.1,682.4L113.3,695.9L113.6,709.5L113.8,721.0L114.1,729.4L114.3,734.8L114.6,737.8L114.8,739.5L115.1,740.2L115.3,740.6L115.8,740.8L122.0,741.0L128.3,741.1L131.3,740.3L132.0,740.6L132.3,740.8L132.8,741.0L138.5,741.0L138.8,741.0L139.0,741.0L140.0,741.0L141.2,741.0L141.5,741.0L143.0,741.0L143.2,741.0L143.3,741.0L146.5,740.5L146.5,740.4L149.7,738.5L150.5,738.0L153.5,736.4L154.2,736.1L154.7,735.7L154.7,735.8L158.9,732.9L160.7,730.0L160.7,730.1L161.5,726.9L161.9,708.3L162.2,716.0L162.4,721.7L163.0,724.6L165.4,725.6L165.4,724.4L165.8,715.4L165.9,717.7L166.3,726.1L166.7,727.7L166.7,728.0L170.0,732.9L172.2,735.0L174.2,737.0L174.2,737.1L175.6,736.6L176.6,738.2L176.7,738.1L177.2,738.3L180.6,739.4L186.8,740.5L186.9,740.4L193.1,740.7L197.4,740.8L198.3,739.5L199.3,738.4L201.1,740.8L207.3,740.9L213.6,740.9L214.1,740.8L214.3,740.9L220.5,740.8L222.5,740.9L222.8,740.8L225.0,740.8L225.3,740.8L229.3,740.8L230.8,740.8L231.3,740.8L232.5,740.8L232.8,740.7L239.0,740.7L244.7,740.8L248.5,740.7L253.7,740.8L253.9,740.7L260.2,740.7L263.9,740.7L264.2,740.7L267.9,740.7L269.2,740.7L271.9,740.6L278.1,740.6L281.6,740.6L281.9,740.5L283.4,740.5L287.9,740.0L288.3,739.7L288.6,739.4L288.8,738.7L289.1,737.0L289.3,733.6L289.6,727.4L289.8,716.6L290.1,699.9L290.3,676.9L290.6,649.1L290.8,620.1L291.1,595.4L291.3,590.6L291.8,590.6L292.1,602.3L292.3,622.4L292.6,644.8L292.8,666.8L293.1,686.6L293.3,703.0L293.6,715.6L293.8,724.6L294.1,730.8L294.3,734.6L294.6,737.0L294.8,738.4L295.1,739.1L295.3,739.5L295.8,739.9L298.3,740.3L301.8,740.5L308.0,740.3L309.3,740.1L310.3,739.8L310.5,739.8L311.0,739.6L311.5,739.3L311.8,738.9L312.0,738.2L312.3,737.0L312.5,734.8L312.8,731.2L313.0,725.5L313.3,717.5L313.5,707.3L313.8,695.9L314.0,684.9L314.3,676.4L314.5,672.1L314.8,672.2L315.0,674.1L315.3,677.5L315.5,682.1L315.8,687.6L316.5,706.1L316.8,711.8L317.0,717.0L317.3,721.5L317.5,725.2L317.8,728.3L318.0,730.7L318.3,732.5L318.5,733.9L318.8,735.0L319.0,735.7L319.3,736.2L319.8,736.9L320.8,737.5L321.8,737.7L322.8,737.4L323.0,737.1L323.5,736.3L324.0,735.1L324.8,732.9L325.3,731.9L325.5,731.6L325.7,731.6L326.2,731.8L327.0,733.0L328.5,736.2L329.2,737.5L330.0,738.4L330.7,738.9L332.0,739.2L332.5,739.1L332.7,738.9L333.7,737.7L334.0,737.6L334.5,738.0L335.2,739.1L335.5,739.4L337.7,739.7L338.0,739.6L339.5,739.6L339.7,739.5L340.0,739.2L340.2,738.6L340.5,737.1L340.7,733.7L341.0,727.4L341.2,717.2L341.5,703.2L341.7,688.2L342.0,675.9L342.2,670.7L342.5,672.4L342.7,678.0L343.0,686.4L343.2,696.3L343.5,706.5L343.7,715.7L343.9,723.3L344.2,729.2L344.4,733.3L344.7,736.0L344.9,737.7L345.2,738.6L345.4,739.2L345.9,739.7L347.9,739.9L348.4,739.6L348.7,739.3L348.9,738.9L349.2,738.2L349.4,737.3L349.7,736.0L349.9,734.5L350.4,731.3L350.7,729.8L350.9,728.9L351.2,728.4L351.4,728.5L351.7,728.9L351.9,729.5L352.2,730.3L353.4,735.7L353.9,737.4L354.4,738.6L354.9,739.4L355.2,739.7L355.7,740.0L357.4,740.3L357.7,740.2L363.9,740.3L370.1,740.3L375.9,740.3L376.1,740.4L379.1,740.3L385.3,740.3L389.3,740.3L395.6,740.3L399.5,740.3L400.8,740.2L401.3,739.9L402.0,738.9L402.3,738.8L402.5,738.9L403.0,739.6L403.5,740.1L403.8,740.3L409.0,740.3L415.3,740.3L421.5,740.3L423.2,740.3L423.5,740.2L429.7,740.1L432.5,739.8L432.7,739.5L433.0,738.6L433.2,736.6L433.5,733.9L433.7,731.8L434.0,730.3L434.2,727.0L434.5,720.0L434.7,708.7L435.0,694.3L435.2,678.5L435.5,664.4L435.7,655.0L436.0,652.6L436.2,655.1L436.4,660.8L436.7,669.0L436.9,678.8L437.2,689.4L437.4,699.7L437.7,709.2L437.9,717.3L438.2,723.8L438.4,728.9L438.7,732.6L438.9,735.3L439.2,737.0L439.4,738.1L439.7,738.9L439.9,739.2L440.7,739.8L441.9,740.0L442.2,739.9L448.4,740.1L452.4,740.2L458.6,740.1L464.1,740.2L464.4,740.1L470.6,740.1L476.3,740.1L476.6,740.1L481.6,740.1L482.6,740.1L483.1,739.9L483.3,739.6L483.8,738.3L484.1,738.0L484.3,738.3L484.8,739.5L485.1,739.9L486.3,740.1L487.3,740.0L492.3,740.0L498.5,740.0L504.8,740.0L506.8,739.9L507.0,739.6L507.3,739.1L507.5,737.8L507.8,735.1L508.0,730.7L508.5,719.1L508.8,715.5L509.0,715.4L509.3,716.6L509.5,718.8L509.8,721.7L510.3,728.1L510.5,731.0L510.7,733.6L511.0,735.6L511.2,737.0L511.5,738.1L511.7,738.8L512.0,739.3L512.5,739.7L515.2,740.0L515.5,739.9L520.2,739.9L526.5,740.0L532.7,740.0L535.7,740.0L540.7,740.0L541.9,739.9L546.4,739.9L552.6,739.9L555.4,739.9L561.6,739.8L567.8,739.8L573.8,739.8L573.9,739.9L580.1,739.9L586.3,739.8L591.0,739.6L592.8,739.4L596.4,739.1L600.3,738.2L600.5,738.1L601.6,737.9L603.0,737.0L603.1,737.0L604.2,733.4L605.0,734.0L605.8,734.8L607.5,733.6L608.7,733.1L609.3,732.9L611.1,731.2L612.7,726.6L613.0,726.9L614.4,729.5L615.5,723.8L615.6,723.2L616.6,716.5L617.8,718.7L618.9,711.5L619.8,717.2L620.2,720.9L620.4,722.8L621.1,705.2L621.2,702.8L621.9,673.9L622.3,666.7L622.9,676.2L623.7,695.6L623.9,702.0L624.0,703.5L625.2,719.6L625.7,722.3L626.2,725.4L627.9,723.7L627.9,723.8L628.7,728.2L629.6,732.9L631.2,736.0L633.0,737.9L634.4,738.2L640.6,739.6L646.9,739.7L653.1,739.7L657.9,739.6L664.1,739.6L669.8,739.6L674.6,739.5L678.5,739.6L684.8,739.5L686.3,739.6L686.5,739.5L686.8,739.5L692.3,739.5L698.5,739.5L704.0,739.5L708.2,739.4" fill="none" stroke="#d6d6d6" stroke-width="0.8" stroke-linejoin="round"/>
<g stroke="#585858" stroke-width="1" fill="none">
<line x1="63.9" y1="596.9" x2="63.9" y2="742.6" stroke="#8a8a8a"/>
<line x1="63.2" y1="743.6" x2="707.8" y2="743.6" stroke-width="1.1"/>
<line x1="60.5" y1="598.6" x2="63.9" y2="598.6"/>
<line x1="60.5" y1="611.7" x2="63.9" y2="611.7"/>
<line x1="60.5" y1="624.8" x2="63.9" y2="624.8"/>
<line x1="60.5" y1="637.8" x2="63.9" y2="637.8"/>
<line x1="60.5" y1="650.9" x2="63.9" y2="650.9"/>
<line x1="60.5" y1="664.0" x2="63.9" y2="664.0"/>
<line x1="60.5" y1="677.1" x2="63.9" y2="677.1"/>
<line x1="60.5" y1="690.2" x2="63.9" y2="690.2"/>
<line x1="60.5" y1="703.2" x2="63.9" y2="703.2"/>
<line x1="60.5" y1="716.3" x2="63.9" y2="716.3"/>
<line x1="60.5" y1="729.4" x2="63.9" y2="729.4"/>
<line x1="63.8" y1="743.6" x2="63.8" y2="747.1" stroke="#4a4a4a" stroke-width="1.25"/>
<line x1="93.8" y1="743.6" x2="93.8" y2="747.1" stroke="#4a4a4a" stroke-width="1.25"/>
<line x1="123.8" y1="743.6" x2="123.8" y2="747.1" stroke="#4a4a4a" stroke-width="1.25"/>
<line x1="153.8" y1="743.6" x2="153.8" y2="747.1" stroke="#4a4a4a" stroke-width="1.25"/>
<line x1="183.8" y1="743.6" x2="183.8" y2="747.1" stroke="#4a4a4a" stroke-width="1.25"/>
<line x1="213.9" y1="743.6" x2="213.9" y2="747.1" stroke="#4a4a4a" stroke-width="1.25"/>
<line x1="243.9" y1="743.6" x2="243.9" y2="747.1" stroke="#4a4a4a" stroke-width="1.25"/>
<line x1="273.9" y1="743.6" x2="273.9" y2="747.1" stroke="#4a4a4a" stroke-width="1.25"/>
<line x1="303.9" y1="743.6" x2="303.9" y2="747.1" stroke="#4a4a4a" stroke-width="1.25"/>
<line x1="334.0" y1="743.6" x2="334.0" y2="747.1" stroke="#4a4a4a" stroke-width="1.25"/>
<line x1="364.0" y1="743.6" x2="364.0" y2="747.1" stroke="#4a4a4a" stroke-width="1.25"/>
<line x1="394.0" y1="743.6" x2="394.0" y2="747.1" stroke="#4a4a4a" stroke-width="1.25"/>
<line x1="424.0" y1="743.6" x2="424.0" y2="747.1" stroke="#4a4a4a" stroke-width="1.25"/>
<line x1="454.1" y1="743.6" x2="454.1" y2="747.1" stroke="#4a4a4a" stroke-width="1.25"/>
<line x1="484.1" y1="743.6" x2="484.1" y2="747.1" stroke="#4a4a4a" stroke-width="1.25"/>
<line x1="514.1" y1="743.6" x2="514.1" y2="747.1" stroke="#4a4a4a" stroke-width="1.25"/>
<line x1="544.1" y1="743.6" x2="544.1" y2="747.1" stroke="#4a4a4a" stroke-width="1.25"/>
<line x1="574.2" y1="743.6" x2="574.2" y2="747.1" stroke="#4a4a4a" stroke-width="1.25"/>
<line x1="604.2" y1="743.6" x2="604.2" y2="747.1" stroke="#4a4a4a" stroke-width="1.25"/>
<line x1="634.2" y1="743.6" x2="634.2" y2="747.1" stroke="#4a4a4a" stroke-width="1.25"/>
<line x1="664.2" y1="743.6" x2="664.2" y2="747.1" stroke="#4a4a4a" stroke-width="1.25"/>
<line x1="694.3" y1="743.6" x2="694.3" y2="747.1" stroke="#4a4a4a" stroke-width="1.25"/>
</g>
<g font-size="8.9" fill="#1c1c1c" stroke="#1c1c1c" stroke-width="0.2">
<text transform="translate(56.8,602.5) rotate(0.03) scale(1,1.06)" text-anchor="end">0.55</text>
<text transform="translate(56.8,615.6) rotate(0.03) scale(1,1.06)" text-anchor="end">0.50</text>
<text transform="translate(56.8,628.7) rotate(0.03) scale(1,1.06)" text-anchor="end">0.45</text>
<text transform="translate(56.8,641.7) rotate(0.03) scale(1,1.06)" text-anchor="end">0.40</text>
<text transform="translate(56.8,654.8) rotate(0.03) scale(1,1.06)" text-anchor="end">0.35</text>
<text transform="translate(56.8,667.9) rotate(0.03) scale(1,1.06)" text-anchor="end">0.30</text>
<text transform="translate(56.8,681.0) rotate(0.03) scale(1,1.06)" text-anchor="end">0.25</text>
<text transform="translate(56.8,694.1) rotate(0.03) scale(1,1.06)" text-anchor="end">0.20</text>
<text transform="translate(56.8,707.1) rotate(0.03) scale(1,1.06)" text-anchor="end">0.15</text>
<text transform="translate(56.8,720.2) rotate(0.03) scale(1,1.06)" text-anchor="end">0.10</text>
<text transform="translate(56.8,733.3) rotate(0.03) scale(1,1.06)" text-anchor="end">0.05</text>
<text transform="translate(63.9,756.7) rotate(0.03) scale(1,1.06)" text-anchor="middle">10</text>
<text transform="translate(93.9,756.7) rotate(0.03) scale(1,1.06)" text-anchor="middle">12</text>
<text transform="translate(123.9,756.7) rotate(0.03) scale(1,1.06)" text-anchor="middle">14</text>
<text transform="translate(153.9,756.7) rotate(0.03) scale(1,1.06)" text-anchor="middle">16</text>
<text transform="translate(183.9,756.7) rotate(0.03) scale(1,1.06)" text-anchor="middle">18</text>
<text transform="translate(214.0,756.7) rotate(0.03) scale(1,1.06)" text-anchor="middle">20</text>
<text transform="translate(244.0,756.7) rotate(0.03) scale(1,1.06)" text-anchor="middle">22</text>
<text transform="translate(274.0,756.7) rotate(0.03) scale(1,1.06)" text-anchor="middle">24</text>
<text transform="translate(304.0,756.7) rotate(0.03) scale(1,1.06)" text-anchor="middle">26</text>
<text transform="translate(334.1,756.7) rotate(0.03) scale(1,1.06)" text-anchor="middle">28</text>
<text transform="translate(364.1,756.7) rotate(0.03) scale(1,1.06)" text-anchor="middle">30</text>
<text transform="translate(394.1,756.7) rotate(0.03) scale(1,1.06)" text-anchor="middle">32</text>
<text transform="translate(424.1,756.7) rotate(0.03) scale(1,1.06)" text-anchor="middle">34</text>
<text transform="translate(454.2,756.7) rotate(0.03) scale(1,1.06)" text-anchor="middle">36</text>
<text transform="translate(484.2,756.7) rotate(0.03) scale(1,1.06)" text-anchor="middle">38</text>
<text transform="translate(514.2,756.7) rotate(0.03) scale(1,1.06)" text-anchor="middle">40</text>
<text transform="translate(544.2,756.7) rotate(0.03) scale(1,1.06)" text-anchor="middle">42</text>
<text transform="translate(574.3,756.7) rotate(0.03) scale(1,1.06)" text-anchor="middle">44</text>
<text transform="translate(604.3,756.7) rotate(0.03) scale(1,1.06)" text-anchor="middle">46</text>
<text transform="translate(634.3,756.7) rotate(0.03) scale(1,1.06)" text-anchor="middle">48</text>
<text transform="translate(664.3,756.7) rotate(0.03) scale(1,1.06)" text-anchor="middle">50</text>
<text transform="translate(694.4,756.7) rotate(0.03) scale(1,1.06)" text-anchor="middle">52</text>
</g>
<text transform="translate(102.4,627.4) scale(1,1.04)" font-size="19.9" fill="#000" stroke="#000" stroke-width="0.2">LBDE</text>
<text transform="translate(5.5,31.0) scale(1,1.04)" font-size="20.2" font-weight="bold" fill="#000" stroke="#000" stroke-width="0.3">A</text>
<text transform="translate(5.3,443.2) scale(1,1.04)" font-size="19.6" font-weight="bold" fill="#000" stroke="#000" stroke-width="0.3">B</text>
<text transform="translate(14.1,180.8) rotate(-90) scale(1,1.04)" font-size="15.6" text-anchor="middle" fill="#000">AU</text>
<text transform="translate(14.1,578.3) rotate(-90) scale(1,1.04)" font-size="15.6" text-anchor="middle" fill="#000">AU</text>
<text transform="translate(385,397.2) scale(1,1.02)" font-size="16.1" stroke="#000" stroke-width="0.2" text-anchor="middle" fill="#000">Time (min)</text>
<text transform="translate(385,793.2) scale(1,1.02)" font-size="16.1" stroke="#000" stroke-width="0.2" text-anchor="middle" fill="#000">Time (min)</text>
<text transform="translate(280.75,12.5) rotate(0.03) scale(1,0.975)" font-size="15.75" fill="#0c0cff" stroke="#0c0cff" stroke-width="0.2" text-anchor="start">K3</text>
<text transform="translate(381.75,32.8) rotate(0.03) scale(1,0.975)" font-size="15.75" fill="#ff0808" stroke="#ff0808" stroke-width="0.2" text-anchor="start">K1-K9</text>
<text transform="translate(345.35,65.3) rotate(0.03) scale(1,0.975)" font-size="15.75" fill="#ff0808" stroke="#ff0808" stroke-width="0.2">K1-K9<tspan font-size="10" dy="3.6">R</tspan></text>
<text transform="translate(334.55,87.0) rotate(0.03) scale(1,0.975)" font-size="15.75" fill="#0c0cff" stroke="#0c0cff" stroke-width="0.2" text-anchor="start">K7</text>
<text transform="translate(306.95,93.9) rotate(0.03) scale(1,0.975)" font-size="15.75" fill="#0c0cff" stroke="#0c0cff" stroke-width="0.2" text-anchor="start">K6</text>
<text transform="translate(316.75,125.6) rotate(0.03) scale(1,0.975)" font-size="15.75" fill="#0c0cff" stroke="#0c0cff" stroke-width="0.2" text-anchor="start">K6’</text>
<text transform="translate(357.75,113.3) rotate(0.03) scale(1,0.975)" font-size="15.75" fill="#0c0cff" stroke="#0c0cff" stroke-width="0.2" text-anchor="start">K6’’</text>
<text transform="translate(145.95,104.9) rotate(0.03) scale(1,0.975)" font-size="15.75" fill="#ff0808" stroke="#ff0808" stroke-width="0.2" text-anchor="start">K2</text>
<text transform="translate(494.95,125.3) rotate(0.03) scale(1,0.975)" font-size="15.75" fill="#0c0cff" stroke="#0c0cff" stroke-width="0.2" text-anchor="start">K5</text>
<text transform="translate(608.05,40.6) rotate(0.03) scale(1,0.975)" font-size="15.75" fill="#0c0cff" stroke="#0c0cff" stroke-width="0.2" text-anchor="start">K4</text>
<path d="M133.2,131.2 A4.8,7.7 0 0 1 138.0,123.5 L154.1,123.5 A4.0,7.4 0 0 0 158.1,116.1 A4.0,7.4 0 0 0 162.1,123.5 L173.5,123.5 A4.8,7.7 0 0 1 178.3,131.2" fill="none" stroke="#ff0808" stroke-width="1.35" stroke-linejoin="miter"/>
<path d="M318.1,145.5 A4.8,6.7 0 0 1 322.9,138.8 L326.2,138.8 A4.0,5.8 0 0 0 330.2,133.0 A4.0,5.8 0 0 0 334.2,138.8 L335.5,138.8 A4.8,6.7 0 0 1 340.3,145.5" fill="none" stroke="#0c0cff" stroke-width="1.35" stroke-linejoin="miter"/>
<path d="M596.4,60.6 A4.8,7.8 0 0 1 601.2,52.8 L617.3,52.8 A4.0,7.3 0 0 0 621.3,45.5 A4.0,7.3 0 0 0 625.3,52.8 L636.7,52.8 A4.8,7.8 0 0 1 641.5,60.6" fill="none" stroke="#0c0cff" stroke-width="1.35" stroke-linejoin="miter"/>
<line x1="363.0" y1="126.0" x2="357.1" y2="139.6" stroke="#0c0cff" stroke-width="1.3"/><polygon points="354.1,146.6 353.5,138.1 360.7,141.2" fill="#0c0cff"/>
<line x1="381.0" y1="74.7" x2="388.6" y2="150.2" stroke="#ff0808" stroke-width="1.3"/><polygon points="389.4,157.8 384.8,150.6 392.5,149.8" fill="#ff0808"/>
<text transform="translate(280.95,423.6) rotate(0.03) scale(1,0.975)" font-size="15.75" fill="#0c0cff" stroke="#0c0cff" stroke-width="0.2" text-anchor="start">K3</text>
<text transform="translate(101.05,494.2) rotate(0.03) scale(1,0.975)" font-size="15.75" fill="#ff0808" stroke="#ff0808" stroke-width="0.2" text-anchor="start">K9</text>
<text transform="translate(153.65,522.2) rotate(0.03) scale(1,0.975)" font-size="15.75" fill="#ff0808" stroke="#ff0808" stroke-width="0.2" text-anchor="start">K2</text>
<text transform="translate(306.95,505.5) rotate(0.03) scale(1,0.975)" font-size="15.75" fill="#0c0cff" stroke="#0c0cff" stroke-width="0.2" text-anchor="start">K6</text>
<text transform="translate(334.55,498.4) rotate(0.03) scale(1,0.975)" font-size="15.75" fill="#0c0cff" stroke="#0c0cff" stroke-width="0.2" text-anchor="start">K7</text>
<text transform="translate(316.75,537.2) rotate(0.03) scale(1,0.975)" font-size="15.75" fill="#0c0cff" stroke="#0c0cff" stroke-width="0.2" text-anchor="start">K6’</text>
<text transform="translate(357.75,524.8) rotate(0.03) scale(1,0.975)" font-size="15.75" fill="#0c0cff" stroke="#0c0cff" stroke-width="0.2" text-anchor="start">K6’’</text>
<text transform="translate(424.85,483.5) rotate(0.03) scale(1,0.975)" font-size="15.75" fill="#ff0808" stroke="#ff0808" stroke-width="0.2" text-anchor="start">K1</text>
<text transform="translate(494.95,536.0) rotate(0.03) scale(1,0.975)" font-size="15.75" fill="#0c0cff" stroke="#0c0cff" stroke-width="0.2" text-anchor="start">K5</text>
<text transform="translate(608.65,451.7) rotate(0.03) scale(1,0.975)" font-size="15.75" fill="#0c0cff" stroke="#0c0cff" stroke-width="0.2" text-anchor="start">K4</text>
<path d="M141.2,542.3 A4.8,7.4 0 0 1 146.0,534.9 L161.8,534.9 A4.0,7.8 0 0 0 165.8,527.1 A4.0,7.8 0 0 0 169.8,534.9 L181.2,534.9 A4.8,7.4 0 0 1 186.0,542.3" fill="none" stroke="#ff0808" stroke-width="1.35" stroke-linejoin="miter"/>
<path d="M318.7,556.8 A4.8,5.3 0 0 1 323.5,551.5 L326.0,551.5 A4.0,7.2 0 0 0 330.0,544.3 A4.0,7.2 0 0 0 334.0,551.5 L335.5,551.5 A4.8,5.3 0 0 1 340.3,556.8" fill="none" stroke="#0c0cff" stroke-width="1.35" stroke-linejoin="miter"/>
<path d="M596.8,471.5 A4.8,7.9 0 0 1 601.6,463.6 L617.0,463.6 A4.0,7.2 0 0 0 621.0,456.4 A4.0,7.2 0 0 0 625.0,463.6 L636.4,463.6 A4.8,7.9 0 0 1 641.2,471.5" fill="none" stroke="#0c0cff" stroke-width="1.35" stroke-linejoin="miter"/>
<line x1="362.8" y1="537.8" x2="356.9" y2="551.2" stroke="#0c0cff" stroke-width="1.3"/><polygon points="353.9,558.2 353.4,549.7 360.5,552.8" fill="#0c0cff"/>
</svg>
</body></html>
